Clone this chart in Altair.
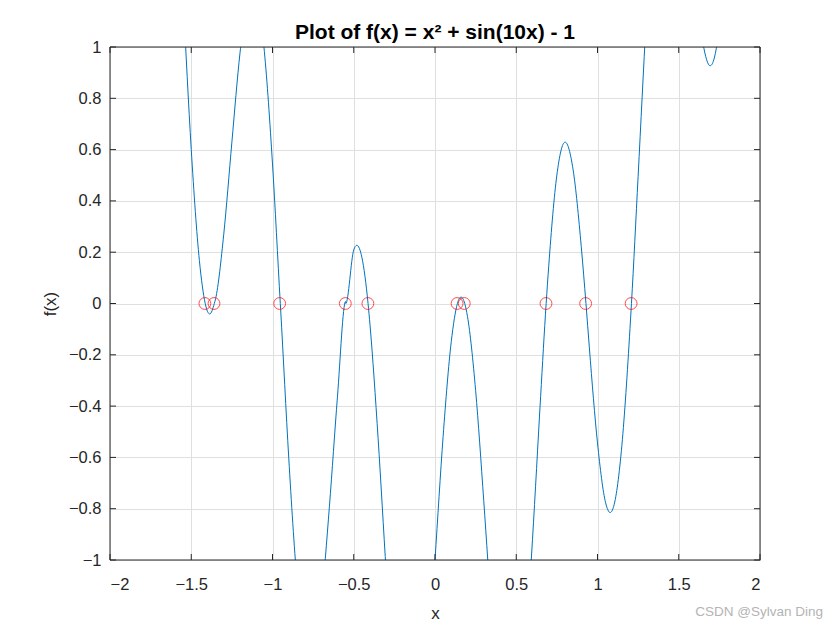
import altair as alt
import pandas as pd

# Curve samples (x, f(x))
curve_x = [-2.0, -1.95, -1.9, -1.85, -1.8, -1.75, -1.7, -1.65, -1.6, -1.55, -1.5, -1.45,
           -1.414, -1.4, -1.386, -1.358, -1.35, -1.3, -1.25, -1.2, -1.15, -1.122, -1.1, -1.05,
           -1.0, -0.952, -0.95, -0.9, -0.85, -0.8, -0.77, -0.75, -0.7, -0.65, -0.6,
           -0.55, -0.549, -0.5, -0.481, -0.45, -0.412, -0.4, -0.35, -0.3, -0.25, -0.2,
           -0.15, -0.1, -0.05, 0.0, 0.05, 0.1, 0.138, 0.15, 0.16, 0.183, 0.2, 0.25, 0.3,
           0.35, 0.4, 0.45, 0.5, 0.55, 0.6, 0.65, 0.684, 0.7, 0.75, 0.8, 0.801, 0.85, 0.9,
           0.929, 0.95, 1.0, 1.05, 1.078, 1.1, 1.15, 1.2, 1.209, 1.25, 1.3, 1.35, 1.4, 1.45,
           1.5, 1.55, 1.6, 1.65, 1.693, 1.7, 1.75, 1.8, 1.85, 1.9, 1.95, 2.0]
curve_y = [2.087, 2.197, 2.460, 2.761, 2.991, 3.043, 2.851, 2.434, 1.848, 1.196, 0.600, 0.168,
           0.0, -0.031, -0.041, 0.0, 0.019, 0.270, 0.629, 0.977, 1.198, 1.234, 1.210, 0.982,
           0.544, 0.0, -0.022, -0.602, -1.076, -1.349, -1.395, -1.376, -1.167, -0.793, -0.361,
           0.008, 0.0, 0.209, 0.227, 0.180, 0.0, -0.083, -0.527, -1.051, -1.536, -1.869,
           -1.975, -1.832, -1.477, -1.0, -0.518, -0.149, 0.0, 0.020, 0.025, 0.0, -0.051, -0.339, -0.769,
           -1.228, -1.597, -1.775, -1.709, -1.403, -0.919, -0.362, 0.0, 0.147, 0.501, 0.629, 0.629, 0.521, 0.222,
           0.0, -0.173, -0.544, -0.777, -0.815, -0.790, -0.553, -0.097, 0.0, 0.496, 1.110, 1.626, 1.951, 2.037,
           1.900, 1.609, 1.272, 1.011, 0.927, 0.929, 1.082, 1.489, 2.084, 2.760, 3.408, 3.913]

# Roots marked with red circles
root_x = [-1.416, -1.360, -0.956, -0.552, -0.413, 0.136, 0.180, 0.683, 0.927, 1.207]
root_y = [0] * len(root_x)

x_ticks = [-2, -1.5, -1, -0.5, 0, 0.5, 1, 1.5, 2]
y_ticks = [-1, -0.8, -0.6, -0.4, -0.2, 0, 0.2, 0.4, 0.6, 0.8, 1]

title_text = "Plot of f(x) = x\u00b2 + sin(10x) - 1"
x_label = "x"
y_label = "f(x)"
watermark = "CSDN @Sylvan Ding"

W, H = 650, 513
FONT = "Liberation Sans"
AX = "#262626"

curve_df = pd.DataFrame({"x": curve_x, "y": curve_y})
roots_df = pd.DataFrame({"x": root_x, "y": root_y})
xt_df = pd.DataFrame({"v": x_ticks})
yt_df = pd.DataFrame({"v": y_ticks})

xs = alt.Scale(domain=[-2, 2], nice=False, zero=False)
ys = alt.Scale(domain=[-1, 1], nice=False, zero=False)

lab = "datum.value < 0 ? '\u2212' + toString(-datum.value) : toString(datum.value)"

x_axis = alt.Axis(values=x_ticks, labelExpr=lab, grid=True, ticks=False, domain=False,
                  title=x_label, labelPadding=16, titlePadding=13)
y_axis = alt.Axis(values=y_ticks, labelExpr=lab, grid=True, ticks=False, domain=False,
                  title=y_label, labelPadding=9, titlePadding=9)

line = alt.Chart(curve_df).mark_line(
    color="#0072BD", strokeWidth=1, clip=True, interpolate="monotone"
).encode(
    x=alt.X("x:Q", scale=xs, axis=x_axis),
    y=alt.Y("y:Q", scale=ys, axis=y_axis),
    order="x:Q",
)

pts = alt.Chart(roots_df).mark_point(
    shape="circle", filled=False, color="#FF0000", size=140, strokeWidth=1
).encode(
    x=alt.X("x:Q", scale=xs),
    y=alt.Y("y:Q", scale=ys),
)

TL = 6
xt_bottom = alt.Chart(xt_df).mark_rule(color=AX, strokeWidth=1).encode(
    x=alt.X("v:Q", scale=xs), y=alt.value(H), y2=alt.value(H - TL))
xt_top = alt.Chart(xt_df).mark_rule(color=AX, strokeWidth=1).encode(
    x=alt.X("v:Q", scale=xs), y=alt.value(0), y2=alt.value(TL))
yt_left = alt.Chart(yt_df).mark_rule(color=AX, strokeWidth=1).encode(
    y=alt.Y("v:Q", scale=ys), x=alt.value(0), x2=alt.value(TL))
yt_right = alt.Chart(yt_df).mark_rule(color=AX, strokeWidth=1).encode(
    y=alt.Y("v:Q", scale=ys), x=alt.value(W), x2=alt.value(W - TL))

frame = alt.Chart(pd.DataFrame({"k": [0]})).mark_rect(
    fill=None, fillOpacity=0, stroke=AX, strokeWidth=1
).encode(x=alt.value(0), x2=alt.value(W), y=alt.value(0), y2=alt.value(H))

wm = alt.Chart(pd.DataFrame({"t": [watermark]})).mark_text(
    align="right", baseline="alphabetic", fontSize=13.5, font=FONT, color="#b4b4b4"
).encode(text="t:N", x=alt.value(W + 63), y=alt.value(H + 56))

chart = alt.layer(line, pts, xt_bottom, xt_top, yt_left, yt_right, frame, wm).properties(
    width=W, height=H,
    title=alt.TitleParams(title_text, font=FONT, fontSize=21, fontWeight="bold",
                          color="#000000", anchor="middle", offset=-4),
    autosize=alt.AutoSizeParams(type="none"),
    padding={"left": 102, "top": 39, "right": 70, "bottom": 62},
    background="white",
).configure_view(
    stroke=AX, strokeWidth=1
).configure_axis(
    labelFont=FONT, labelFontSize=16.5, labelColor=AX,
    titleFont=FONT, titleFontSize=17, titleColor=AX, titleFontWeight="normal",
    gridColor="#dfdfdf", gridWidth=1,
)

chart.save("out.html", embed_options={"renderer": "svg", "actions": False})
